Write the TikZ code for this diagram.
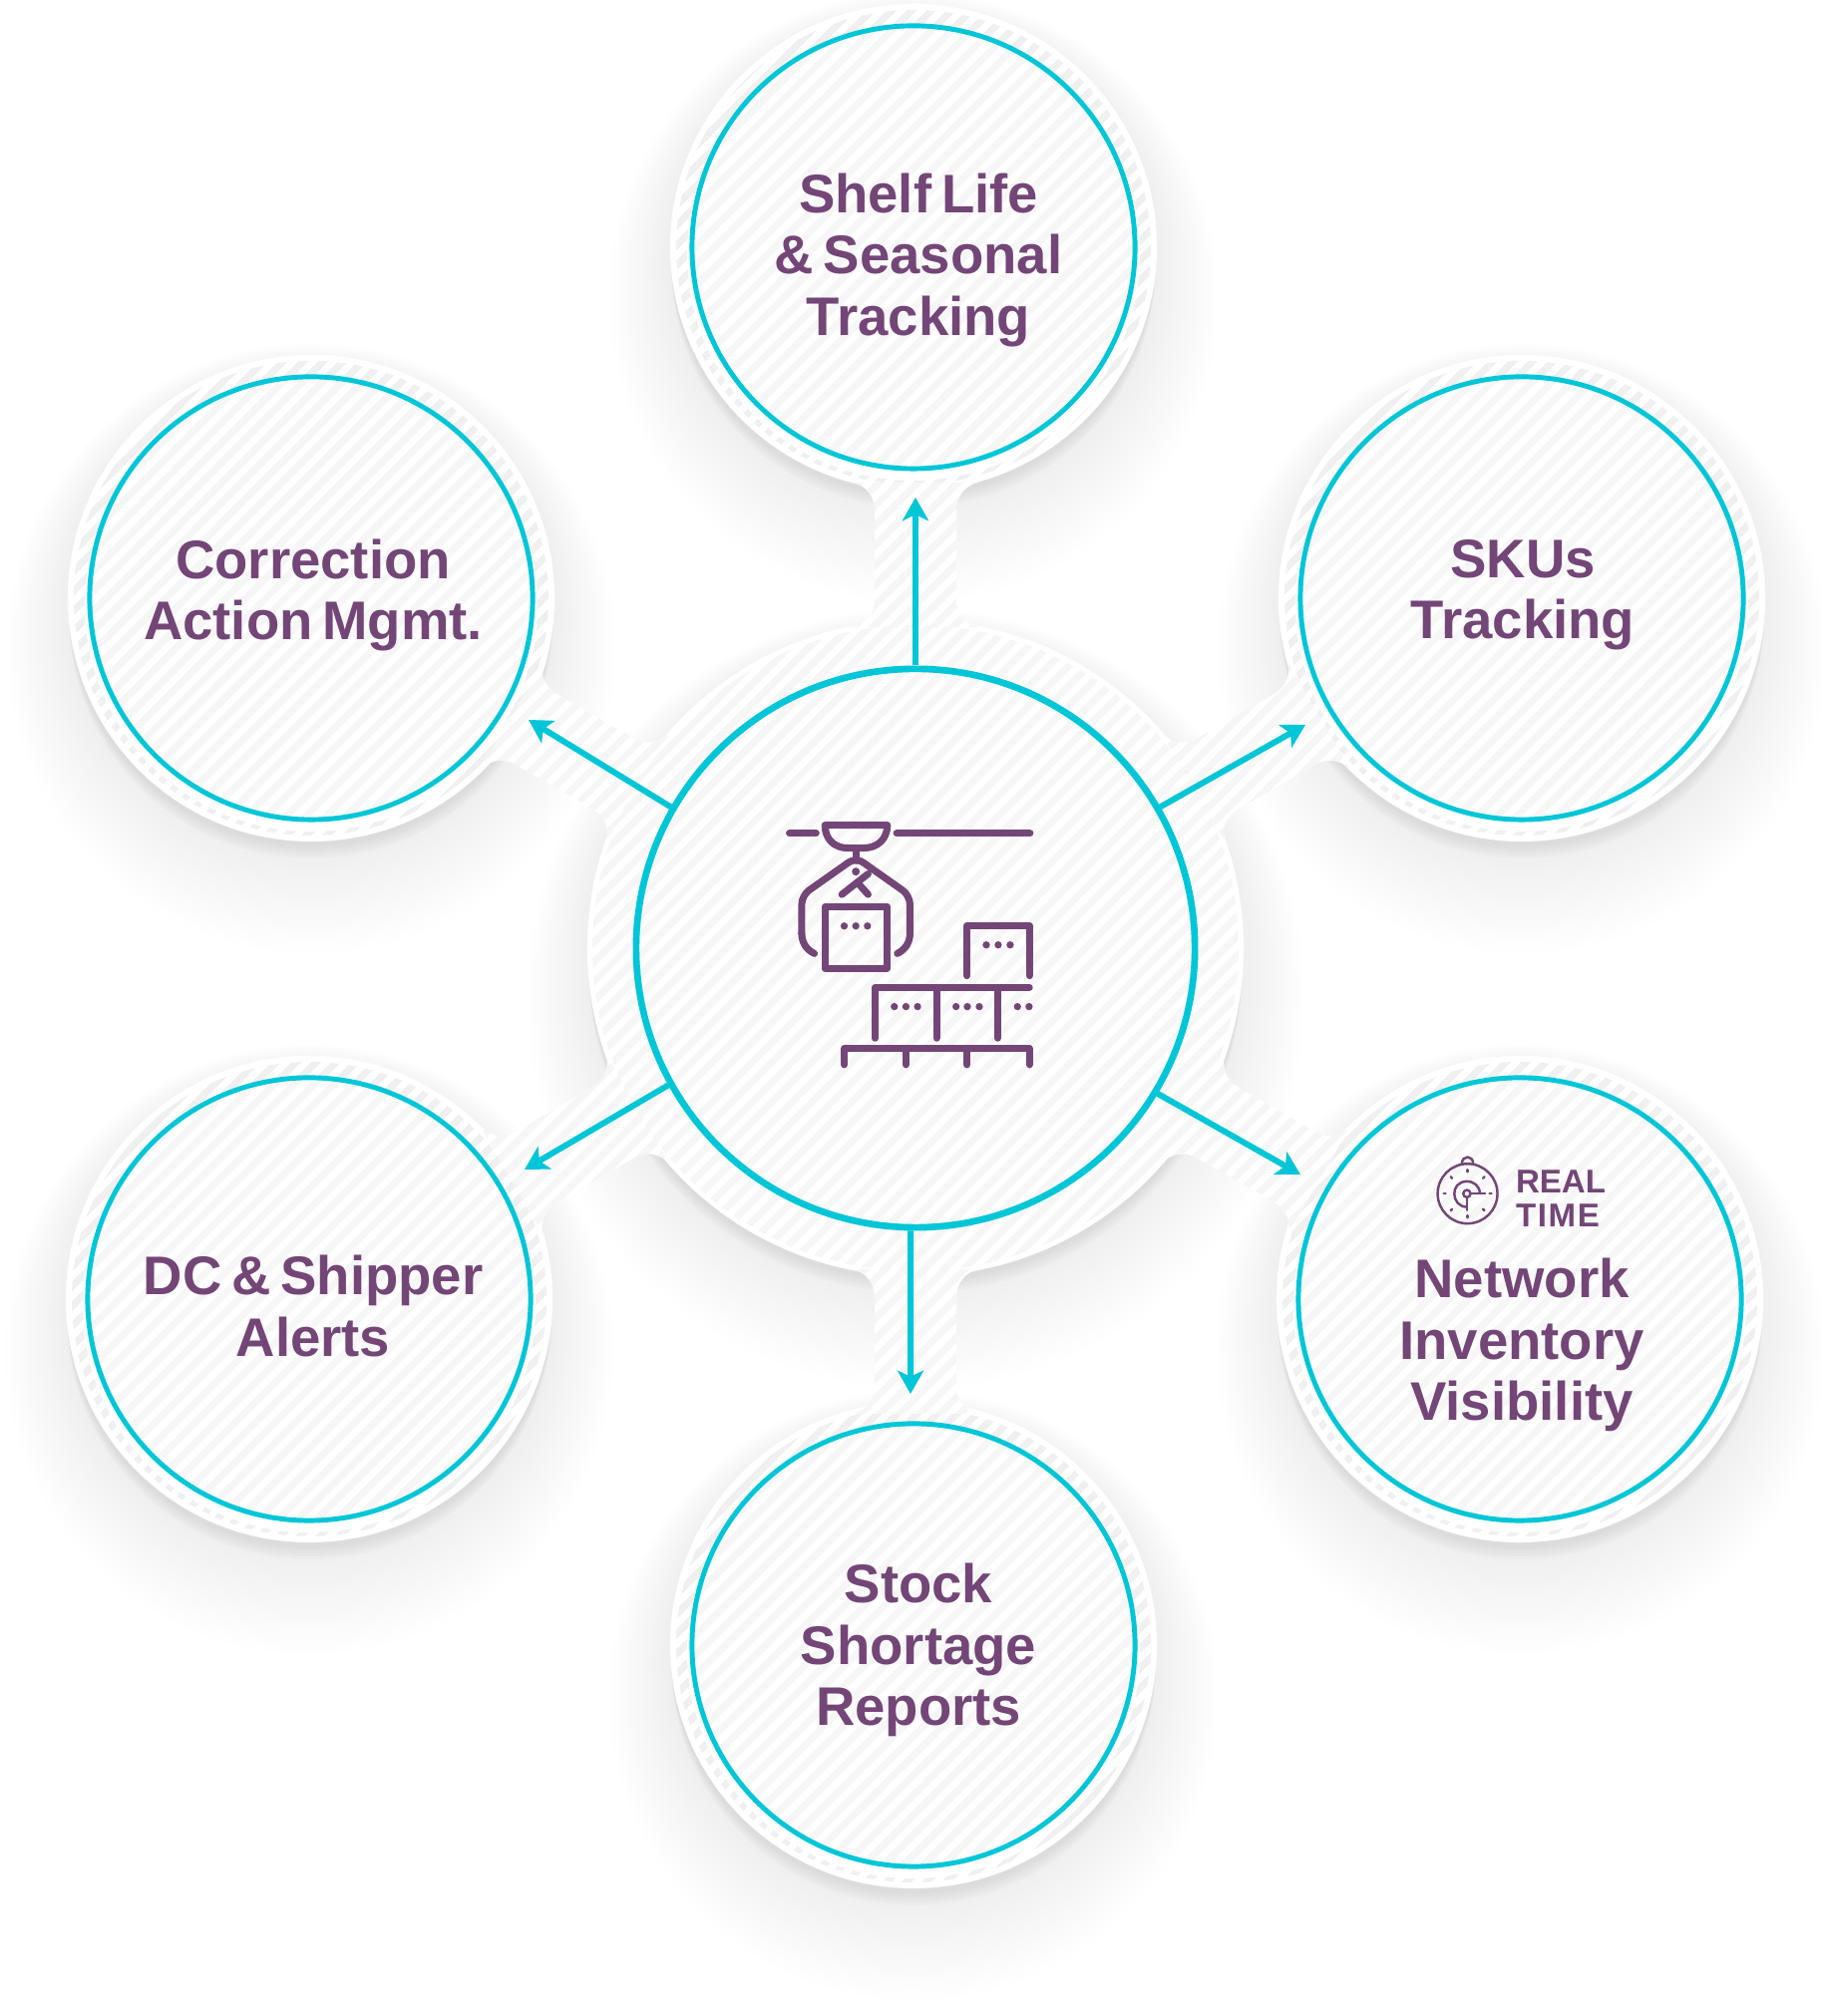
\documentclass[tikz,border=0pt]{standalone}
\usepackage{fontspec}
\setmainfont[WordSpace=0.65]{Liberation Sans}
\usetikzlibrary{arrows.meta,patterns.meta,calc}
\definecolor{ringteal}{HTML}{00C6D7}
\definecolor{plum}{HTML}{734677}
\definecolor{stripegray}{HTML}{F6F6F6}
\definecolor{edgegray}{HTML}{F0F0F0}
\tikzset{
    ring/.style={circle,draw=ringteal,line width=1.4pt,minimum size=444*0.2845pt,inner sep=0pt},
    hubring/.style={ring,line width=1.9pt,minimum size=560*0.2845pt},
    title/.style={text=plum,align=center,inner sep=0pt,font=\bfseries\fontsize{15.5}{17.4}\selectfont},
    flow/.style={draw=ringteal,line width=1.7pt,-{Stealth[length=6.6pt,width=7.4pt,inset=1.7pt]}},
    icon/.style={draw=plum,line width=2pt,line cap=round,line join=round},
    thinicon/.style={draw=plum,line width=0.7pt,line cap=round,line join=round},
    dot/.style={fill=plum},
    stripes/.style={pattern={Lines[angle=45,distance=4pt,line width=2pt]},pattern color=stripegray},
    edgestripes/.style={stripes,pattern color=edgegray}
}
% one spoke with its rounded corners, along the x axis from the hub
\def\armpath{(321.8,63.6) arc[start angle=191.18,end angle=270,radius=28] -- (439.9,41)
    arc[start angle=270,end angle=345.25,radius=28] -- (467,-61.87)
    arc[start angle=14.75,end angle=90,radius=28] -- (349.25,-41)
    arc[start angle=90,end angle=168.82,radius=28] -- cycle}
\begin{document}
\begin{tikzpicture}[x=0.01cm,y=0.01cm]
    \useasboundingbox (0,0) rectangle (1829,2022);

    % soft shadow, wide and faint first, then tight
    \foreach \i [evaluate=\i as \r using 243+3.9*\i, evaluate=\i as \h using 328+3.9*\i, evaluate=\i as \s using -10-2.5*\i] in {16,15,...,1}
        \fill [black,opacity=.0055,shift={(0,\s)}] (918,1071) circle (\h)
            (916,1774) circle (\r) (1526,1422) circle (\r) (1524,719) circle (\r)
            (916,372) circle (\r) (310,719) circle (\r) (312,1422) circle (\r);
    \foreach \s in {-6,-9,-12,-15,-18}
        \fill [black,opacity=.016,shift={(0,\s)}] (918,1071) circle (328)
            (916,1774) circle (243) (1526,1422) circle (243) (1524,719) circle (243)
            (916,372) circle (243) (310,719) circle (243) (312,1422) circle (243);

    % plate
    \fill [white,draw=white,line width=.6pt] (918,1071) circle (328);
    \foreach \x/\y in {916/1774,1526/1422,1524/719,916/372,310/719,312/1422} {
        \fill [white,draw=white,line width=.6pt] (\x,\y) circle (243);
        \fill [edgestripes] (\x,\y) circle (238);
    }
    \foreach \a in {30,90,150,210,270,330} {
        \fill [white,shift={(918,1071)},rotate=\a] \armpath;
        \fill [stripes,shift={(918,1071)},rotate=\a] \armpath;
    }
    \fill [stripes] (918,1071) circle (324);
    \foreach \x/\y in {916/1774,1526/1422,1524/719,916/372,310/719,312/1422} {
        \fill [white] (\x,\y-7) circle (227);
        \fill [stripes] (\x,\y) circle (222);
    }

    % circles
    \node [hubring] (hub) at (918,1071) {};
    \node [ring] (shelf) at (916,1774) {};
    \node [ring] (skus) at (1526,1422) {};
    \node [ring] (network) at (1524,719) {};
    \node [ring] (stock) at (916,372) {};
    \node [ring] (alerts) at (310,719) {};
    \node [ring] (correction) at (312,1422) {};

    % arrows
    \coordinate (shelftip) at (918,1523);
    \coordinate (skustip) at (1309,1295);
    \coordinate (networktip) at (1304,844);
    \coordinate (stocktip) at (913,624);
    \coordinate (alertstip) at (526,849);
    \coordinate (correctiontip) at (530,1300);
    \draw [flow] (hub.90) -- (shelftip);
    \draw [flow] (hub.30) -- (skustip);
    \draw [flow] (hub.-31) -- (networktip);
    \draw [flow] (hub.269) -- (stocktip);
    \draw [flow] (hub.209) -- (alertstip);
    \draw [flow] (hub.150) -- (correctiontip);

    % labels
    \node [title] (shelftext) at (921,1761) {Shelf Life\\\& Seasonal\\Tracking};
    \node [title] (skustext) at (1527,1425) {SKUs\\Tracking};
    \node [title] (networktext) at (1526,673) {Network\\Inventory\\Visibility};
    \node [title] (stocktext) at (921,367) {Stock\\Shortage\\Reports};
    \node [title] (alertstext) at (314,712) {DC \& Shipper\\Alerts};
    \node [title] (correctiontext) at (314,1425) {Correction\\Action Mgmt.};
    \node [text=plum,align=left,inner sep=0pt,font=\bfseries\fontsize{9.4}{9.5}\selectfont] (realtime) at (1565,820) {REAL\\\addfontfeature{LetterSpace=5}TIME};

    % packing icon
    \begin{scope}[shift={(750,1242)},x=0.0033333cm,y=-0.0033333cm]
        \draw [icon] (125,168) -- (205,168);
        \draw [icon] (448,168) -- (850,168);
        \draw [icon] (232,143) -- (420,143) .. controls (420,185) and (390,212) .. (350,212)
            -- (300,212) .. controls (260,212) and (232,185) .. (232,143) -- cycle;
        \draw [icon] (325,212) -- (325,250);
        \draw [icon,rounded corners=2.5pt] (162,470) -- (162,355) -- (325,240) -- (488,355) -- (488,470);
        \draw [icon] (162,470) .. controls (162,495) and (175,518) .. (200,530);
        \draw [icon] (488,470) .. controls (488,495) and (475,518) .. (450,530);
        \draw [icon] (362,290) -- (283,352);
        \draw [icon] (335,322) -- (362,352);
        \fill [dot] (325,283) circle (12);
        \draw [icon] (232,388) rectangle (420,575);
        \draw [icon] (660,597) -- (660,447) -- (848,447) -- (848,597);
        \draw [icon] (383,785) -- (383,632) -- (848,632);
        \draw [icon] (568,632) -- (568,785);
        \draw [icon] (753,632) -- (753,785);
        \draw [icon] (290,865) -- (290,816) -- (848,816) -- (848,865);
        \draw [icon] (476,816) -- (476,865);
        \draw [icon] (660,816) -- (660,865);
        \foreach \dotx/\doty in {290/447,325/447,360/447,718/504,754/504,790/504,441/690,476/690,511/690,627/690,661/690,697/690,812/690,847/690}
            \fill [dot] (\dotx,\doty) circle (11);
    \end{scope}

    % clock icon
    \begin{scope}[shift={(1400,892)},x=0.0033333cm,y=-0.0033333cm]
        \draw [thinicon] (215,202) circle (90);
        \draw [thinicon] (198,112) .. controls (198,85) and (232,85) .. (232,112);
        \draw [thinicon] (213,202) circle (11);
        \draw [thinicon] (225,202) -- (268,202);
        \draw [thinicon] (213,213) -- (213,252);
        \draw [thinicon] (213,242) .. controls (165,242) and (160,165) .. (213,165) .. controls (235,165) and (252,180) .. (252,202);
        \foreach \tick in {0,45,...,315}
            \draw [thinicon] ($(215,202)+(\tick:66)$) -- ($(215,202)+(\tick:72)$);
    \end{scope}
\end{tikzpicture}
\end{document}
